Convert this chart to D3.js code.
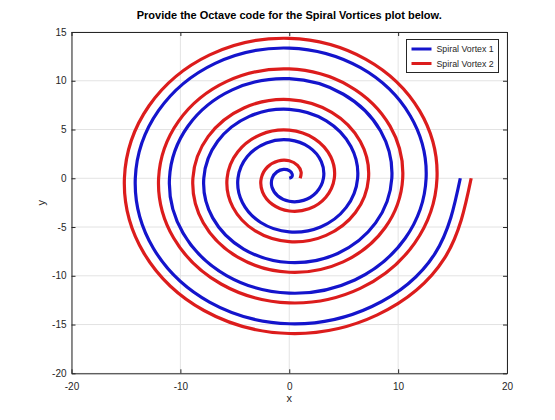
<!DOCTYPE html>
<html>
<head>
<meta charset="utf-8">
<script src="https://cdn.jsdelivr.net/npm/d3@7"></script>
<style>
  body { margin: 0; background: #fff; }
  text { font-family: "Liberation Sans", Arial, sans-serif; fill: #262626; }
</style>
</head>
<body>
<script>
'use strict';

// angle of each reading along the spiral, in degrees (every 1/12 turn)
const angleDeg = [0, 30, 60, 90, 120, 150, 180, 210, 240, 270, 300, 330, 360, 390, 420,
  450, 480, 510, 540, 570, 600, 630, 660, 690, 720, 750, 780, 810, 840, 870, 900, 930,
  960, 990, 1020, 1050, 1080, 1110, 1140, 1170, 1200, 1230, 1260, 1290, 1320, 1350,
  1380, 1410, 1440, 1470, 1500, 1530, 1560, 1590, 1620, 1650, 1680, 1710, 1740, 1770,
  1800];

// radius at each angle
const vortex1R = [0, 0.26, 0.52, 0.79, 1.05, 1.31, 1.57, 1.83, 2.09, 2.36, 2.62, 2.88,
  3.14, 3.40, 3.67, 3.93, 4.19, 4.45, 4.71, 4.97, 5.24, 5.50, 5.76, 6.02, 6.28, 6.54,
  6.81, 7.07, 7.33, 7.59, 7.85, 8.12, 8.38, 8.64, 8.90, 9.16, 9.42, 9.69, 9.95, 10.21,
  10.47, 10.73, 11.00, 11.26, 11.52, 11.78, 12.04, 12.30, 12.57, 12.83, 13.09, 13.35,
  13.61, 13.87, 14.14, 14.40, 14.66, 14.92, 15.18, 15.45, 15.71];
const vortex2R = [1, 1.26, 1.52, 1.79, 2.05, 2.31, 2.57, 2.83, 3.09, 3.36, 3.62, 3.88,
  4.14, 4.40, 4.67, 4.93, 5.19, 5.45, 5.71, 5.97, 6.24, 6.50, 6.76, 7.02, 7.28, 7.54,
  7.81, 8.07, 8.33, 8.59, 8.85, 9.12, 9.38, 9.64, 9.90, 10.16, 10.42, 10.69, 10.95,
  11.21, 11.47, 11.73, 12.00, 12.26, 12.52, 12.78, 13.04, 13.30, 13.57, 13.83, 14.09,
  14.35, 14.61, 14.87, 15.14, 15.40, 15.66, 15.92, 16.18, 16.45, 16.71];

const seriesNames = ["Spiral Vortex 1", "Spiral Vortex 2"];
const xTicks = [-20, -10, 0, 10, 20];
const yTicks = [-20, -15, -10, -5, 0, 5, 10, 15];

(function() {

  let svg = "";

  window.onload = function() {
    svg = d3.select('body')
      .append('svg')
      .attr('width', 555)
      .attr('height', 420);
    drawChart();
  }

  function drawChart() {
    // plot box
    let left = 71.5, right = 507, top = 32, bottom = 373.3;

    let xScale = d3.scaleLinear().domain([-20, 20]).range([left, right]);
    let yScale = d3.scaleLinear().domain([-20, 15]).range([bottom, top]);

    // grid lines
    svg.append('g').selectAll('line')
      .data(xTicks)
      .enter()
      .append('line')
        .attr('x1', (d) => xScale(d)).attr('x2', (d) => xScale(d))
        .attr('y1', top).attr('y2', bottom)
        .attr('stroke', '#e3e3e3');
    svg.append('g').selectAll('line')
      .data(yTicks)
      .enter()
      .append('line')
        .attr('x1', left).attr('x2', right)
        .attr('y1', (d) => yScale(d)).attr('y2', (d) => yScale(d))
        .attr('stroke', '#e3e3e3');

    // spirals: polar readings turned into x/y points
    let colors = ['#1414cc', '#dc1c1c'];
    let radii = [vortex1R, vortex2R];
    let line = d3.line()
      .x((d) => xScale(d[0]))
      .y((d) => yScale(d[1]))
      .curve(d3.curveNatural);

    radii.forEach(function(r, i) {
      let pts = angleDeg.map(function(a, j) {
        let t = a * Math.PI / 180;
        return [r[j] * Math.cos(t), r[j] * Math.sin(t)];
      });
      svg.append('path')
        .attr('d', line(pts))
        .attr('fill', 'none')
        .attr('stroke', colors[i])
        .attr('stroke-width', 3.2);
    });

    // axes: bottom/left with labels, top/right mirrored ticks only
    let fmt = (d) => String(d);
    let xAxis = d3.axisBottom(xScale).tickValues(xTicks).tickFormat(fmt)
      .tickSizeInner(-4).tickSizeOuter(0).tickPadding(10);
    let yAxis = d3.axisLeft(yScale).tickValues(yTicks).tickFormat(fmt)
      .tickSizeInner(-4).tickSizeOuter(0).tickPadding(5);
    svg.append('g').attr('transform', 'translate(0,' + bottom + ')').call(xAxis);
    svg.append('g').attr('transform', 'translate(' + left + ',0)').call(yAxis);
    svg.append('g').attr('transform', 'translate(0,' + top + ')')
      .call(d3.axisTop(xScale).tickValues(xTicks).tickSizeInner(-4).tickSizeOuter(0).tickFormat(''));
    svg.append('g').attr('transform', 'translate(' + right + ',0)')
      .call(d3.axisRight(yScale).tickValues(yTicks).tickSizeInner(-4).tickSizeOuter(0).tickFormat(''));

    svg.selectAll('.domain').attr('stroke', '#262626');
    svg.selectAll('.tick line').attr('stroke', '#262626');
    svg.selectAll('.tick text').attr('font-size', 10).attr('fill', '#262626')
      .attr('font-family', '"Liberation Sans", Arial, sans-serif');

    // axis labels and title
    svg.append('text')
      .attr('x', (left + right) / 2).attr('y', 402)
      .attr('text-anchor', 'middle').attr('font-size', 11)
      .text('x');
    svg.append('text')
      .attr('transform', 'translate(45,' + ((top + bottom) / 2) + ') rotate(-90)')
      .attr('text-anchor', 'middle').attr('font-size', 11)
      .text('y');
    svg.append('text')
      .attr('x', (left + right) / 2).attr('y', 19)
      .attr('text-anchor', 'middle').attr('font-size', 11).attr('font-weight', 'bold')
      .style('fill', '#000')
      .text('Provide the Octave code for the Spiral Vortices plot below.');

    // legend
    let legend = svg.append('g').attr('transform', 'translate(406.5,39.5)');
    legend.append('rect')
      .attr('width', 92).attr('height', 33)
      .attr('fill', '#fff').attr('stroke', '#262626');
    seriesNames.forEach(function(name, i) {
      let y = 9.5 + i * 14.5;
      legend.append('line')
        .attr('x1', 5).attr('x2', 25).attr('y1', y).attr('y2', y)
        .attr('stroke', colors[i]).attr('stroke-width', 3);
      legend.append('text')
        .attr('x', 30).attr('y', y + 3.2)
        .attr('font-size', 8.8)
        .text(name);
    });
  }

})();
</script>
</body>
</html>
